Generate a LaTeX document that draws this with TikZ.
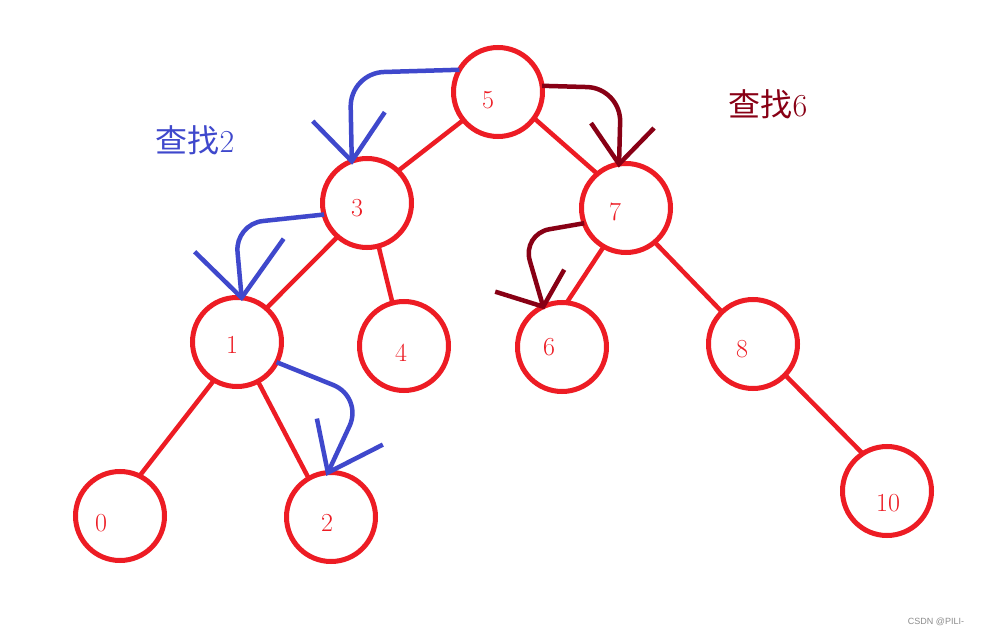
\documentclass[tikz,border=0pt]{standalone}
\usepackage{fontspec}
\newfontfamily\cjk{Noto Sans CJK SC}
\newfontfamily\wmfont{Liberation Sans}
\definecolor{cred}{HTML}{ED1C24}
\definecolor{cblue}{HTML}{3F48CC}
\definecolor{cdark}{HTML}{880015}
\tikzset{
  vtx/.style={circle, draw=cred, line width=5pt, minimum size=89pt, inner sep=0pt, outer sep=0pt},
  num/.style={text=cred, inner sep=0pt, font=\fontsize{26}{30}\selectfont},
  edge/.style={draw=cred, line width=4.5pt},
  bluearr/.style={draw=cblue, line width=4.5pt, rounded corners=34pt},
  bluehead/.style={draw=cblue, line width=4.5pt},
  darkarr/.style={draw=cdark, line width=4.5pt, rounded corners=34pt},
  darkhead/.style={draw=cdark, line width=4.5pt},
  title/.style={inner sep=0pt, font=\fontsize{32}{36}\selectfont}
}
\begin{document}
\begin{tikzpicture}[x=1pt,y=-1pt]
\fill[white] (0,0) rectangle (982,636);
\useasboundingbox (0,0) rectangle (982,636);

\node[vtx, label={[num, xshift=-10pt, yshift=-8pt]center:5}] (n5) at (498,92) {};
\node[vtx, label={[num, xshift=-10pt, yshift=-5pt]center:3}] (n3) at (367,203) {};
\node[vtx, label={[num, xshift=-11pt, yshift=-4pt]center:7}] (n7) at (626,208) {};
\node[vtx, label={[num, xshift=-5pt, yshift=-3pt]center:1}] (n1) at (237,342) {};
\node[vtx, label={[num, xshift=-3pt, yshift=-7pt]center:4}] (n4) at (404,346) {};
\node[vtx, label={[num, xshift=-13pt, yshift=0pt]center:6}] (n6) at (562,347) {};
\node[vtx, label={[num, xshift=-11pt, yshift=-5pt]center:8}] (n8) at (753,344) {};
\node[vtx, label={[num, xshift=-19pt, yshift=-7pt]center:0}] (n0) at (120,516) {};
\node[vtx, label={[num, xshift=-4pt, yshift=-6pt]center:2}] (n2) at (331,517) {};
\node[vtx, label={[num, xshift=1pt, yshift=-12pt]center:10}] (n10) at (887,491) {};

\draw[edge] (n5.219) -- (n3.46);
\draw[edge] (n5.324) -- (n7.130);
\draw[edge] (n3.229) -- (n1.49);
\draw[edge] (n3.285) -- (n4.105);
\draw[edge] (n1.239) -- (n0.64);
\draw[edge] (n1.298) -- (n2.120);
\draw[edge] (n7.240) -- (n6.84);
\draw[edge] (n7.310) -- (n8.134);
\draw[edge] (n8.316) -- (n10.123);

% blue search path
\draw[bluearr] (n5.150) -- (350,73) -- (n3.110);
\draw[bluehead] (n3.110) ++(-39,-40) -- (n3.110) -- ++(33,-49);
\draw[bluearr, rounded corners=28pt] (n3.195) -- (235,224) -- (n1.84);
\draw[bluehead] (n1.84) ++(-47,-46) -- (n1.84) -- ++(42,-59);
\draw[bluearr, rounded corners=32pt] (n1.333) -- (363,397) -- (n2.94);
\draw[bluehead] (n2.94) ++(-11,-54) -- (n2.94) -- ++(55,-28);

% dark red search path
\draw[darkarr] (n5.8) -- (621,88) -- (n7.99);
\draw[darkhead] (n7.99) ++(-28,-41) -- (n7.99) -- ++(35,-36);
\draw[darkarr, rounded corners=28pt] (n7.200) -- (522,234) -- (n6.115);
\draw[darkhead] (n6.115) ++(-48,-15) -- (n6.115) -- ++(21,-37);

\node[title, text=cblue] (t2) at (195,140) {{\cjk 查找}2};
\node[title, text=cdark] (t6) at (768,104) {{\cjk 查找}6};
\node[inner sep=0pt, text=black!45, font=\wmfont\fontsize{9}{10}\selectfont] (wm) at (936,622) {CSDN @PILI-};
\end{tikzpicture}
\end{document}
